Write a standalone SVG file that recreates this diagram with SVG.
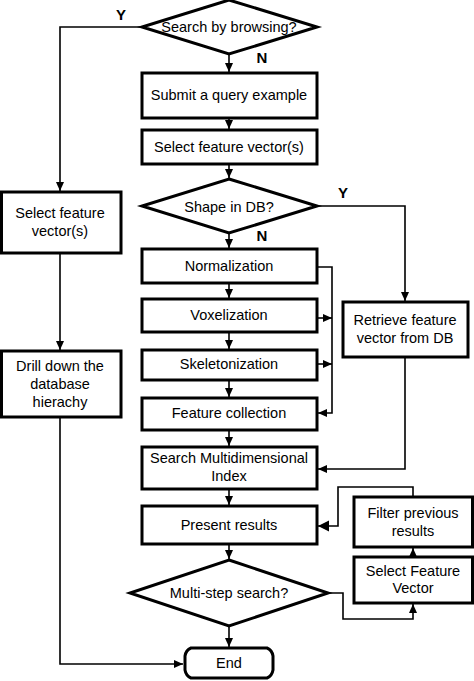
<svg xmlns="http://www.w3.org/2000/svg" width="474" height="681" viewBox="0 0 474 681">
<style>
.box{fill:#fff;stroke:#000;stroke-width:3}
.dia{fill:#fff;stroke:#000;stroke-width:3;stroke-linejoin:miter}
.t{font-family:"Liberation Sans",Arial,sans-serif;font-size:14.5px;fill:#000;text-anchor:middle}
.lbl{font-family:"Liberation Sans",Arial,sans-serif;font-size:15px;font-weight:bold;fill:#000;text-anchor:middle}
.c{fill:none;stroke:#000;stroke-width:1.6}
</style>
<defs>
<marker id="ah" markerUnits="userSpaceOnUse" markerWidth="10" markerHeight="10" viewBox="0 0 10 10" refX="9" refY="5" orient="auto">
<path d="M0,1 L9,5 L0,9 Z" fill="#000"/>
</marker>
<marker id="ahL" markerUnits="userSpaceOnUse" markerWidth="12" markerHeight="12" viewBox="0 0 12 12" refX="11" refY="6" orient="auto">
<path d="M0,0.5 L11,6 L0,11.5 Z" fill="#000"/>
</marker>
</defs>
<g id="connectors">
<path class="c" d="M142,27 H60 V191" marker-end="url(#ah)"/>
<path class="c" d="M229,54 V72" marker-end="url(#ah)"/>
<path class="c" d="M229,118 V129" marker-end="url(#ah)"/>
<path class="c" d="M229,164 V178" marker-end="url(#ah)"/>
<path class="c" d="M317,206 H405 V301" marker-end="url(#ah)"/>
<path class="c" d="M229,233 V248" marker-end="url(#ah)"/>
<path class="c" d="M229,283 V298" marker-end="url(#ah)"/>
<path class="c" d="M229,332 V349" marker-end="url(#ah)"/>
<path class="c" d="M229,380 V397" marker-end="url(#ah)"/>
<path class="c" d="M229,430 V446" marker-end="url(#ah)"/>
<path class="c" d="M317,267 H332 V413 H318" marker-end="url(#ah)"/>
<path class="c" d="M318,318 H332" marker-end="url(#ah)"/>
<path class="c" d="M318,364 H332" marker-end="url(#ah)"/>
<path class="c" d="M405,357 V469 H318" marker-end="url(#ah)"/>
<path class="c" d="M229,489 V505" marker-end="url(#ah)"/>
<path class="c" d="M413,497 V487 H338 V526 H318" marker-end="url(#ahL)"/>
<path class="c" d="M229,544 V559" marker-end="url(#ah)"/>
<path class="c" d="M328,593 H343 V619 H413 V604" marker-end="url(#ah)"/>
<path class="c" d="M413,557 V548" marker-end="url(#ah)"/>
<path class="c" d="M229,626 V647" marker-end="url(#ah)"/>
<path class="c" d="M60,253 V350" marker-end="url(#ah)"/>
<path class="c" d="M60,417 V664 H183" marker-end="url(#ah)"/>
</g>
<g id="labels">
<text class="lbl" x="121" y="20">Y</text>
<text class="lbl" x="262" y="63">N</text>
<text class="lbl" x="343" y="198">Y</text>
<text class="lbl" x="262" y="241">N</text>
</g>
<g id="d1">
<polygon class="dia" points="229,0 317,27 229,54 142,27"/>
<text class="t" x="229" y="32">Search by browsing?</text>
</g>
<g id="n_submit">
<rect class="box" x="142" y="73" width="175" height="45"/>
<text class="t" x="229" y="100">Submit a query example</text>
</g>
<g id="n_select">
<rect class="box" x="142" y="130" width="175" height="34"/>
<text class="t" x="229" y="152">Select feature vector(s)</text>
</g>
<g id="d2">
<polygon class="dia" points="229,179 317,206 229,233 142,206"/>
<text class="t" x="229" y="212">Shape in DB?</text>
</g>
<g id="n_leftselect">
<rect class="box" x="1.5" y="192" width="119.5" height="61"/>
<text class="t" x="60" y="218">Select feature</text>
<text class="t" x="60" y="236">vector(s)</text>
</g>
<g id="n_drill">
<rect class="box" x="1.5" y="351" width="119.5" height="66"/>
<text class="t" x="60" y="371">Drill down the</text>
<text class="t" x="60" y="389">database</text>
<text class="t" x="60" y="407">hierachy</text>
</g>
<g id="n_norm">
<rect class="box" x="142" y="249" width="175" height="34"/>
<text class="t" x="229" y="271">Normalization</text>
</g>
<g id="n_vox">
<rect class="box" x="142" y="299" width="175" height="33"/>
<text class="t" x="229" y="320">Voxelization</text>
</g>
<g id="n_skel">
<rect class="box" x="142" y="350" width="175" height="30"/>
<text class="t" x="229" y="369">Skeletonization</text>
</g>
<g id="n_feat">
<rect class="box" x="142" y="398" width="175" height="32"/>
<text class="t" x="229" y="418">Feature collection</text>
</g>
<g id="n_retrieve">
<rect class="box" x="343" y="302" width="125" height="55"/>
<text class="t" x="405" y="325">Retrieve feature</text>
<text class="t" x="405" y="343">vector from DB</text>
</g>
<g id="n_search">
<rect class="box" x="142" y="447" width="175" height="42"/>
<text class="t" x="229" y="463">Search Multidimensional</text>
<text class="t" x="229" y="481">Index</text>
</g>
<g id="n_present">
<rect class="box" x="142" y="506" width="175" height="38"/>
<text class="t" x="229" y="530">Present results</text>
</g>
<g id="n_filter">
<rect class="box" x="354" y="497" width="118.5" height="50"/>
<text class="t" x="413" y="518">Filter previous</text>
<text class="t" x="413" y="536">results</text>
</g>
<g id="n_selfv">
<rect class="box" x="354" y="557" width="118.5" height="46"/>
<text class="t" x="413" y="576">Select Feature</text>
<text class="t" x="413" y="593">Vector</text>
</g>
<g id="d3">
<polygon class="dia" points="229,560 328,593 229,626 130,593"/>
<text class="t" x="229" y="598">Multi-step search?</text>
</g>
<g id="n_end">
<path class="box" stroke-linejoin="round" d="M191,648 H267 Q272,650 273,656 V670 Q272,676 267,678 H191 Q186,676 185,670 V656 Q186,650 191,648 Z"/>
<text class="t" x="229" y="668">End</text>
</g>
</svg>
